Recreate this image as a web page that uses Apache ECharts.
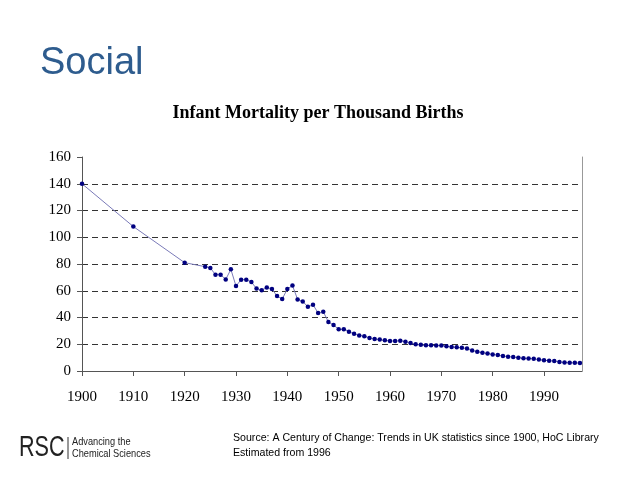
<!DOCTYPE html>
<html>
<head>
<meta charset="utf-8">
<script src="https://cdn.jsdelivr.net/npm/echarts@6/dist/echarts.min.js"></script>
<style>
  html, body { margin: 0; padding: 0; background: #fff; }
  #chart { width: 638px; height: 478px; }
</style>
</head>
<body>
<div id="chart"></div>
<script>
// infant deaths per 1000 births
const years = [1900, 1910, 1920,
  1924, 1925, 1926, 1927, 1928, 1929, 1930, 1931, 1932, 1933, 1934, 1935, 1936, 1937, 1938, 1939,
  1940, 1941, 1942, 1943, 1944, 1945, 1946, 1947, 1948, 1949,
  1950, 1951, 1952, 1953, 1954, 1955, 1956, 1957, 1958, 1959,
  1960, 1961, 1962, 1963, 1964, 1965, 1966, 1967, 1968, 1969,
  1970, 1971, 1972, 1973, 1974, 1975, 1976, 1977, 1978, 1979,
  1980, 1981, 1982, 1983, 1984, 1985, 1986, 1987, 1988, 1989,
  1990, 1991, 1992, 1993, 1994, 1995, 1996, 1997]
const mortality = [140, 108, 81,
  78, 77, 72, 72, 68.5, 76, 63.5, 68.3, 68.3, 66.5, 61.6, 60.4, 62.4, 61.3, 56, 53.8,
  61.3, 63.9, 53.5, 52, 48, 49.5, 43.4, 44.3, 36.7, 34.3,
  31.3, 31.3, 29.3, 27.9, 26.6, 26, 24.6, 24, 23.5, 22.9,
  22.4, 22.4, 22.6, 21.9, 20.9, 20, 19.6, 19.2, 19.2, 19,
  19, 18.5, 18, 17.8, 17.4, 16.8, 15.3, 14.3, 13.6, 13.1,
  12.4, 11.9, 11.2, 10.7, 10.4, 9.9, 9.6, 9.4, 9.1, 8.6,
  8.1, 7.6, 7.4, 6.8, 6.4, 6.1, 6.1, 5.9]
const yTicks = [0, 20, 40, 60, 80, 100, 120, 140, 160]
const decadeTicks = [1900, 1910, 1920, 1930, 1940, 1950, 1960, 1970, 1980, 1990]

const chart = echarts.init(document.getElementById('chart'))

const serif = 'Liberation Serif, Times New Roman, serif'
const sans = 'Liberation Sans, Arial, sans-serif'

// hide the split lines at 0 and 160, dashed ones in between
const splitColors = yTicks.map((v, i) => (i === 0 || i === yTicks.length - 1) ? 'rgba(0,0,0,0)' : '#333')

chart.setOption({
  animation: false,
  title: [
    {
      text: 'Social',
      left: 35, top: 40,
      textStyle: { fontFamily: sans, fontSize: 38, fontWeight: 'normal', color: '#2E5C8E' }
    },
    {
      text: 'Infant Mortality per Thousand Births',
      left: 313, top: 99, textAlign: 'center',
      textStyle: { fontFamily: serif, fontSize: 18, fontWeight: 'bold', color: '#000' }
    }
  ],
  grid: { left: 82, right: 56, top: 157, bottom: 107 },
  xAxis: {
    type: 'value',
    min: decadeTicks[0],
    max: 1997.4,
    interval: 10,
    axisLine: { lineStyle: { color: '#555', width: 1 } },
    axisTick: { show: true, length: 5, lineStyle: { color: '#555' } },
    axisLabel: {
      margin: 19, fontFamily: serif, fontSize: 15, color: '#000',
      showMaxLabel: false,
      formatter: v => decadeTicks.includes(v) ? String(v) : ''
    },
    splitLine: { show: false }
  },
  yAxis: [
    {
      type: 'value',
      min: yTicks[0],
      max: yTicks[yTicks.length - 1],
      interval: 20,
      axisLine: { show: true, lineStyle: { color: '#555', width: 1 } },
      axisTick: { show: true, length: 5, lineStyle: { color: '#555' } },
      axisLabel: { margin: 11, fontFamily: serif, fontSize: 15, color: '#000' },
      splitLine: { show: true, lineStyle: { type: [6, 4], color: splitColors, width: 1 } }
    },
    {
      type: 'value',
      position: 'right',
      min: 0, max: 160, interval: 20,
      axisLine: { show: true, lineStyle: { color: '#999', width: 1 } },
      axisTick: { show: false },
      axisLabel: { show: false },
      splitLine: { show: false }
    }
  ],
  series: [
    {
      type: 'line',
      data: years.map((y, i) => [y, mortality[i]]),
      symbol: 'circle',
      symbolSize: 4.5,
      lineStyle: { color: '#7a7ab8', width: 1 },
      itemStyle: { color: '#000080' }
    }
  ],
  graphic: [
    {
      type: 'text', x: 19, y: 433, scaleX: 0.72,
      style: { text: 'RSC', font: '30px "Liberation Sans", sans-serif', fill: '#222', verticalAlign: 'top' }
    },
    {
      type: 'line',
      shape: { x1: 68, y1: 437, x2: 68, y2: 459 },
      style: { stroke: '#333', lineWidth: 1 }
    },
    {
      type: 'text', x: 72, y: 436, scaleX: 0.84,
      style: { text: 'Advancing the\nChemical Sciences', font: '11px "Liberation Sans", sans-serif', lineHeight: 12, fill: '#222', verticalAlign: 'top' }
    },
    {
      type: 'text', left: 233, top: 431,
      style: {
        text: 'Source: A Century of Change: Trends in UK statistics since 1900, HoC Library\nEstimated from 1996',
        font: '10.6px "Liberation Sans", Arial, sans-serif', lineHeight: 15, fill: '#000'
      }
    }
  ]
})
</script>
</body>
</html>
